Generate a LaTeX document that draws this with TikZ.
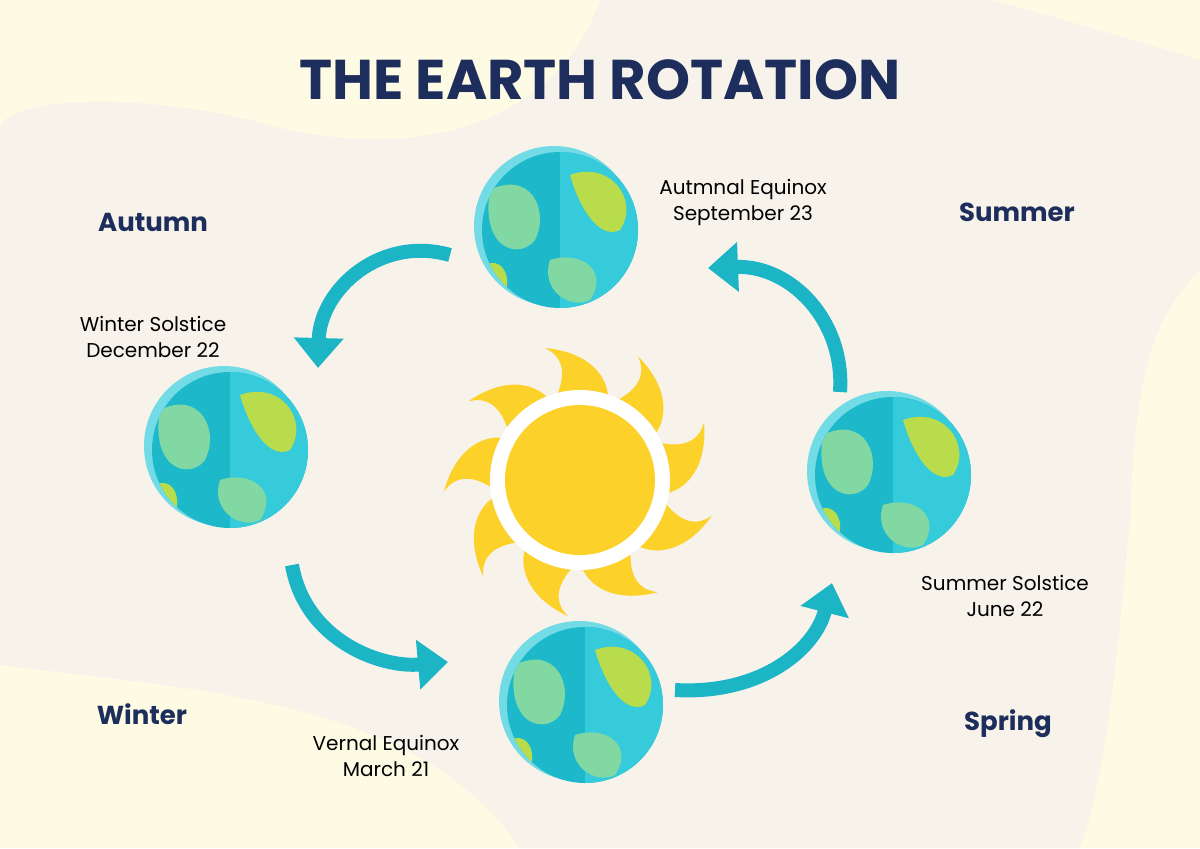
\documentclass[tikz,border=0pt]{standalone}
\usepackage{fontspec}
\setmainfont{Poppins}
\usetikzlibrary{arrows.meta}
\definecolor{cream}{HTML}{FDFBE4}
\definecolor{blob}{HTML}{F7F2EA}
\definecolor{navy}{HTML}{1E2E5C}
\definecolor{sea}{HTML}{1DB9CB}
\definecolor{sea2}{HTML}{36CBDB}
\definecolor{landA}{HTML}{B9DC4C}
\definecolor{landB}{HTML}{82D8A2}
\definecolor{sunY}{HTML}{FCD12A}
\definecolor{arr}{HTML}{1BB5C6}
\begin{document}
\begin{tikzpicture}[x=0.5pt,y=-0.5pt,
  season/.style={font=\fontsize{13}{15}\selectfont\bfseries,text=navy},
  lab/.style={font=\fontsize{10}{13}\selectfont,align=center,text=black},
  flow/.style={arr,line width=7pt,-{Triangle[length=15pt,width=24pt]}}]
\useasboundingbox (0,0) rectangle (1200,848);
\fill[cream] (0,0) rectangle (1200,848);
\fill[blob] (600,0) .. controls (560,120) and (420,170) .. (250,120)
 .. controls (120,90) and (0,100) .. (0,130) -- (0,665)
 .. controls (200,690) and (420,700) .. (520,848) -- (1080,848)
 .. controls (1110,760) and (1120,620) .. (1130,520)
 .. controls (1135,380) and (1150,320) .. (1200,270) -- (1200,60)
 .. controls (1100,30) and (1030,10) .. (990,0) -- cycle;
\node[font=\fontsize{28}{32}\selectfont\bfseries,text=navy] (title) at (600,80) {THE EARTH ROTATION};
% sun
\foreach \a in {0,40,...,320}{
  \fill[sunY,rotate around={\a:(580,480)}] (555,400) .. controls (568,372) and (562,356) .. (545,348)
   .. controls (590,352) and (610,378) .. (608,402) -- cycle;}
\fill[white] (580,480) circle (90);
\node[circle,fill=sunY,minimum size=75pt,inner sep=0] (sun) at (580,480) {};
% earths
\foreach \n/\x/\y in {e1/560/230,e2/230/450,e3/585/705,e4/893/475}{
 \fill[sea2!70] (\x-6,\y-4) circle (80);
 \node[circle,fill=sea,minimum size=78pt,inner sep=0] (\n) at (\x,\y) {};
 \begin{scope}
  \clip (\x,\y) circle (78);
  \fill[sea2] (\x,\y-80) rectangle (\x+80,\y+80);
  \fill[landB] (\x-70,\y-40) .. controls (\x-30,\y-60) and (\x-10,\y-20) .. (\x-25,\y+10)
    .. controls (\x-40,\y+30) and (\x-80,\y+20) .. cycle;
  \fill[landA] (\x+10,\y-55) .. controls (\x+50,\y-70) and (\x+80,\y-30) .. (\x+60,\y)
    .. controls (\x+40,\y+10) and (\x+20,\y-20) .. cycle;
  \fill[landB] (\x-10,\y+30) .. controls (\x+20,\y+20) and (\x+50,\y+40) .. (\x+30,\y+70)
    .. controls (\x+10,\y+80) and (\x-20,\y+60) .. cycle;
  \fill[landA] (\x-75,\y+35) .. controls (\x-55,\y+25) and (\x-45,\y+55) .. (\x-60,\y+70) -- cycle;
 \end{scope}}
% arrows
\coordinate (a1s) at (450,255); \coordinate (a1e) at (318,368);
\coordinate (a2s) at (292,565); \coordinate (a2e) at (448,662);
\coordinate (a3s) at (675,690); \coordinate (a3e) at (832,583);
\coordinate (a4s) at (840,392); \coordinate (a4e) at (708,268);
\draw[flow] (a1s) .. controls (380,235) and (320,290) .. (a1e);
\draw[flow] (a2s) .. controls (305,640) and (380,668) .. (a2e);
\draw[flow] (a3s) .. controls (760,695) and (815,650) .. (a3e);
\draw[flow] (a4s) .. controls (845,320) and (790,265) .. (a4e);
% texts
\node[season] (s1) at (153,222) {Autumn};
\node[season] (s2) at (1017,212) {Summer};
\node[season] (s3) at (142,714) {Winter};
\node[season] (s4) at (1008,724) {Spring};
\node[lab] (l1) at (743,202) {Autmnal Equinox\\September 23};
\node[lab] (l2) at (153,337) {Winter Solstice\\December 22};
\node[lab] (l3) at (1005,596) {Summer Solstice\\June 22};
\node[lab] (l4) at (386,756) {Vernal Equinox\\March 21};
\end{tikzpicture}
\end{document}
